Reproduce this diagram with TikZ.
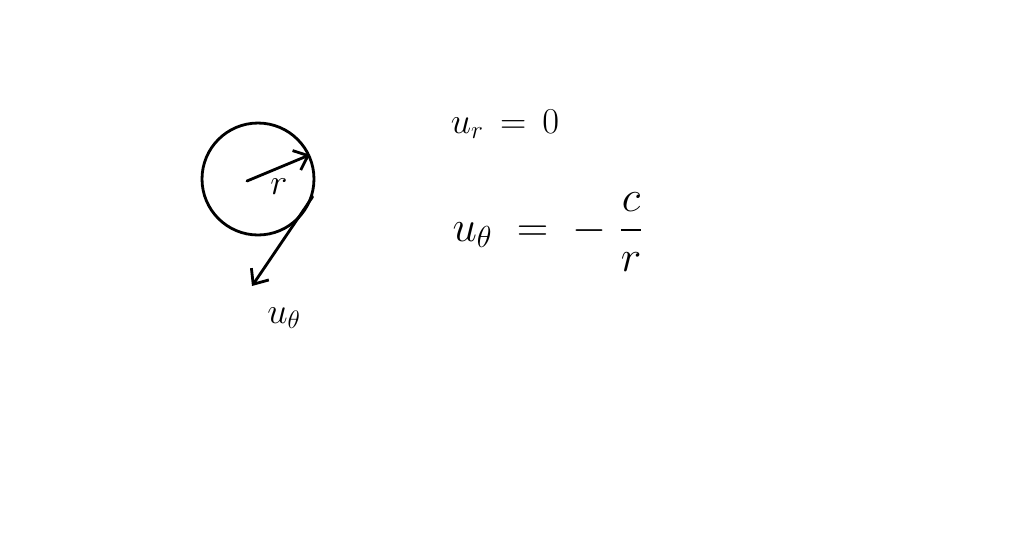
\documentclass[tikz,border=0pt]{standalone}
\usepackage{amsmath,amssymb}
\usepackage{tikz}
\usetikzlibrary{arrows.meta}
\usetikzlibrary{positioning}
\begin{document}
\begin{tikzpicture}[x=0.02cm,y=-0.02cm,
        pen/.style={line width=1.6pt,line cap=round},
        vec/.style={pen,-{Straight Barb[length=7pt,width=12pt]}},
        small/.style={inner sep=0pt,font=\fontsize{22}{24}\selectfont},
        big/.style={inner sep=0pt,font=\fontsize{26}{30}\selectfont}]

    \useasboundingbox[fill=white] (0,0) rectangle (1024,556);

    \node[pen,draw,circle,minimum size=2.24cm,inner sep=0pt] (disk) at (258,179) {};
    \coordinate (rstart) at (247,181);
    \coordinate (uend) at (252,286);

    \draw[vec] (rstart) -- (disk.25);
    \draw[vec] (disk.-18) -- (uend);

    \node[small] (rlab) at (279,187) {$r$};
    \node[small] (ulab) at (284,318) {$u_\theta$};

    \node[small] (eqr) at (505,124) {$u_r \,=\, 0$};
    \node[big] (eqt) at (548,232) {$u_\theta \;=\; -\;\dfrac{c}{r}$};
\end{tikzpicture}
\end{document}
